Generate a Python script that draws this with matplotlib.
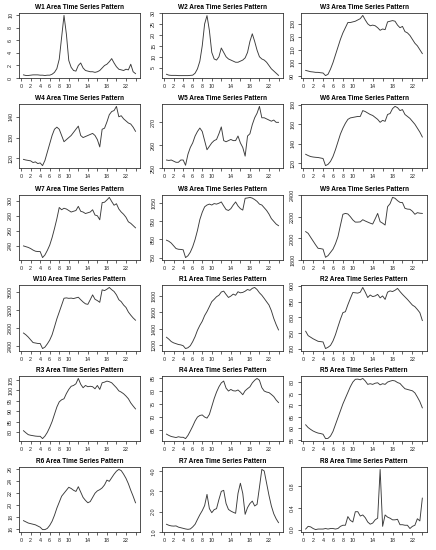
import numpy as np
import matplotlib
matplotlib.use("Agg")
import matplotlib.pyplot as plt

plt.rcParams["font.family"] = ["Liberation Sans", "DejaVu Sans"]

# half-hourly time stamps
hours = np.arange(1, 49) / 2.0

W1 = [0.5, 0.4, 0.4, 0.45, 0.5, 0.5, 0.5, 0.45,
      0.45, 0.4, 0.45, 0.45, 0.6, 0.9, 1.5, 3.0,
      6.5, 10.0, 7.0, 2.8, 1.7, 1.2, 1.1, 2.0,
      2.4, 1.6, 1.2, 1.1, 1.0, 1.0, 0.9, 1.0,
      1.2, 1.6, 2.0, 2.2, 2.6, 3.1, 2.4, 1.8,
      1.4, 1.3, 1.2, 1.4, 1.3, 2.2, 1.0, 0.7]
W2 = [2.0, 1.6, 1.5, 1.5, 1.5, 1.4, 1.4, 1.4,
      1.4, 1.4, 1.5, 1.6, 2.5, 4.5, 8.0, 15.0,
      25.0, 28.8, 22.0, 12.0, 9.0, 8.5, 10.0, 14.0,
      12.0, 10.0, 9.0, 8.5, 8.0, 7.5, 7.5, 8.0,
      8.5, 9.5, 12.0, 17.0, 20.5, 17.0, 13.0, 10.0,
      9.0, 8.5, 7.5, 6.0, 4.5, 3.5, 2.5, 1.5]
W3 = [94, 93.5, 93, 92.8, 92.5, 92.5, 92.2, 92,
      90, 91, 95, 100, 106, 112, 118, 123,
      127, 131, 131, 131.5, 132, 133, 134, 136.5,
      133, 130, 128.5, 129, 128.5, 127, 125, 126,
      125.5, 131.5, 132, 132.5, 132, 129, 127, 128,
      124, 123, 121, 118, 115, 113, 110, 107]
W4 = [119.5, 119.2, 119, 118.8, 118, 118.3, 117.5, 117.8,
      116.5, 119, 123, 127, 131, 134, 135, 134,
      131, 128, 129, 130, 131, 132.5, 134, 135.5,
      131, 130, 130.5, 131, 131.5, 132, 131, 129,
      125.5, 134, 134.5, 137.5, 141, 142.5, 143, 145,
      140, 140.5, 139, 138, 137, 136.5, 135, 133]
W5 = [253.5, 253.3, 253.5, 253, 252.5, 252.5, 253.5, 253.5,
      251.2, 256, 259, 261, 264, 266, 267.5, 266,
      262, 258, 259.5, 261, 262, 262.5, 265, 268,
      262, 261.5, 262, 262.5, 262, 262, 264, 261,
      259, 255.2, 264, 265, 269, 272, 274, 277,
      272, 272, 271.5, 271, 270.5, 271, 270, 270]
W6 = [129.3, 128, 127, 126.5, 126.2, 126, 125.5, 125,
      117.7, 119, 122, 127, 134, 142, 150, 156,
      161, 165, 166.5, 167, 167.5, 168, 168, 174,
      173, 171.5, 170, 169, 167, 165, 162, 164,
      163, 170, 171, 176, 178.3, 177, 174, 175,
      170, 168, 166, 163, 160, 156, 152, 147]
W7 = [240, 239, 238, 236.5, 234.5, 233, 232.5, 232.5,
      224.5, 228, 234, 241, 251, 263, 276, 291,
      288, 290, 289, 287, 285, 286, 287, 292.5,
      286, 285, 283, 284, 285, 288, 281, 280,
      274.7, 297.5, 298, 301, 304.4, 299, 294, 296,
      289, 285, 282, 278, 272, 270, 267, 264]
W8 = [846, 840, 830, 815, 800, 796, 795, 793,
      750, 760, 780, 810, 850, 900, 960, 1000,
      1030, 1040, 1045, 1040, 1048, 1045, 1050, 1057,
      1035, 1015, 1010, 1020, 1040, 1057, 1035, 1020,
      1012, 1077, 1079, 1082, 1078, 1070, 1060, 1045,
      1040, 1025, 1010, 990, 965, 950, 935, 926]
W9 = [2062, 2046, 2010, 1975, 1940, 1908, 1905, 1900,
      1825, 1840, 1870, 1900, 1950, 2015, 2120, 2222,
      2230, 2225, 2200, 2170, 2150, 2150, 2152, 2172,
      2160, 2150, 2140, 2132, 2180, 2230, 2154, 2140,
      2123, 2292, 2320, 2378, 2370, 2348, 2332, 2330,
      2277, 2270, 2268, 2250, 2222, 2237, 2232, 2230]
W10 = [2689, 2650, 2600, 2540, 2480, 2470, 2460, 2459,
       2348, 2380, 2450, 2533, 2650, 2822, 3000, 3150,
       3300, 3452, 3460, 3450, 3455, 3445, 3460, 3474,
       3420, 3370, 3330, 3318, 3420, 3526, 3430, 3400,
       3363, 3637, 3620, 3650, 3689, 3640, 3600, 3526,
       3420, 3377, 3303, 3250, 3150, 3081, 3020, 2970]
R1 = [1294, 1270, 1241, 1225, 1215, 1205, 1200, 1190,
      1155, 1165, 1190, 1240, 1302, 1380, 1440, 1490,
      1560, 1610, 1670, 1731, 1760, 1792, 1810, 1850,
      1861, 1820, 1783, 1800, 1824, 1810, 1853, 1840,
      1845, 1860, 1881, 1870, 1895, 1906, 1880, 1840,
      1810, 1771, 1730, 1690, 1620, 1526, 1450, 1384]
R2 = [756, 742, 737, 732, 728, 724, 723, 722,
      701, 705, 711, 725, 745, 770, 794, 815,
      818, 840, 860, 879, 878, 877, 880, 895,
      880, 863, 871, 866, 868, 873, 862, 868,
      857, 880, 884, 882, 886, 892, 882, 873,
      865, 857, 848, 839, 834, 825, 815, 790]
R3 = [80.6, 79.6, 78.7, 78.4, 78.2, 78.0, 77.9, 77.9,
      76.8, 78.0, 79.8, 82.2, 85.0, 88.5, 92.0, 94.5,
      95.5, 96.0, 98.5, 100.5, 102.0, 102.4, 103.2, 105.8,
      103.0, 101.3, 102.4, 101.8, 102.0, 101.8, 100.8, 102.4,
      100.5, 103.7, 104.0, 104.5, 104.2, 103.7, 102.5, 101.3,
      99.8, 99.2, 98.4, 97.3, 96.0, 94.0, 92.5, 91.1]
R4 = [63.5, 63.0, 62.6, 62.4, 62.2, 62.5, 62.3, 62.3,
      61.8, 63.0, 64.7, 66.5, 68.5, 70.0, 70.6, 70.8,
      70.0, 69.6, 71.0, 74.0, 77.0, 79.5, 81.5, 83.0,
      83.7, 81.0, 79.9, 80.5, 80.0, 79.9, 80.3, 79.5,
      78.5, 80.0, 80.8, 81.5, 83.0, 84.0, 84.7, 84.0,
      81.2, 79.9, 79.5, 79.3, 78.6, 77.8, 76.5, 75.5]
R5 = [61.4, 60.2, 59.4, 58.7, 58.2, 57.8, 57.6, 57.3,
      55.4, 55.5, 56.5, 58.5, 61.5, 64.5, 67.5, 70.5,
      73.0, 75.5, 78.0, 80.0, 81.2, 81.3, 81.0, 81.6,
      80.5, 79.0, 79.3, 79.0, 79.5, 79.7, 78.8, 79.3,
      79.0, 80.0, 80.4, 80.7, 80.5, 79.8, 79.4, 78.2,
      77.1, 76.8, 76.5, 76.2, 75.3, 73.5, 71.5, 68.8]
R6 = [17.4, 17.2, 17.0, 16.9, 16.8, 16.7, 16.5, 16.3,
      15.9, 15.9, 16.1, 16.6, 17.3, 18.3, 19.5, 20.5,
      21.5, 22.0, 22.5, 23.0, 22.8, 22.5, 22.3, 23.1,
      22.2, 21.3, 20.8, 20.4, 20.6, 21.3, 22.0, 22.4,
      22.6, 22.9, 23.4, 24.2, 24.0, 24.6, 25.2, 25.7,
      26.0, 25.8, 25.2, 24.5, 23.6, 22.5, 21.5, 20.4]
R7 = [1.38, 1.33, 1.30, 1.29, 1.30, 1.24, 1.21, 1.18,
      1.15, 1.13, 1.15, 1.25, 1.38, 1.62, 1.85, 2.05,
      2.30, 2.85, 2.15, 1.95, 2.10, 2.15, 2.60, 3.00,
      3.05, 2.40, 2.11, 2.03, 1.97, 1.92, 2.90, 3.40,
      2.90, 1.87, 2.20, 2.40, 2.52, 2.28, 2.36, 3.20,
      4.08, 4.00, 3.40, 2.80, 2.28, 1.90, 1.65, 1.46]
R8 = [0.01, 0.06, 0.05, 0.02, 0.00, 0.01, 0.01, 0.01,
      0.02, 0.01, 0.02, 0.02, 0.01, 0.02, 0.06, 0.08,
      0.08, 0.24, 0.17, 0.14, 0.33, 0.33, 0.25, 0.27,
      0.22, 0.14, 0.10, 0.12, 0.18, 0.21, 1.11, 0.06,
      0.27, 0.23, 0.21, 0.18, 0.18, 0.19, 0.09, 0.09,
      0.08, 0.08, 0.02, 0.06, 0.08, 0.20, 0.16, 0.58]

names = ["W1", "W2", "W3", "W4", "W5", "W6", "W7", "W8", "W9",
         "W10", "R1", "R2", "R3", "R4", "R5", "R6", "R7", "R8"]
series = [W1, W2, W3, W4, W5, W6, W7, W8, W9,
          W10, R1, R2, R3, R4, R5, R6, R7, R8]
yticks = [
    [0, 2, 4, 6, 8, 10], [5, 10, 15, 20, 25, 30], [90, 100, 110, 120, 130],
    [120, 130, 140], [250, 260, 270], [120, 140, 160, 180],
    [240, 260, 280, 300], [750, 850, 950, 1050], [1800, 2000, 2200, 2400],
    [2400, 2800, 3200, 3600], [1200, 1400, 1600, 1800], [700, 750, 800, 850, 900],
    [80, 85, 90, 95, 100, 105], [65, 70, 75, 80, 85], [55, 60, 65, 70, 75, 80],
    [16, 18, 20, 22, 24, 26], [1.0, 2.0, 3.0, 4.0], [0.0, 0.4, 0.8],
]
ytick_fmt = {"R7": "{:.1f}", "R8": "{:.1f}"}

xticks = np.arange(0, 25, 2)
xlabels = [str(t) if t in (0, 2, 4, 6, 8, 10, 14, 18, 22) else "" for t in xticks]

W, H = 436, 550
cols = [(19, 140), (162, 283), (301, 427)]
rows = [(13, 78), (104, 168), (195, 260), (285, 351), (376, 441), (467, 532)]

fig = plt.figure(figsize=(W / 100, H / 100), dpi=100)

for i, (name, vals) in enumerate(zip(names, series)):
    r, c = divmod(i, 3)
    x0, x1 = cols[c]
    y0, y1 = rows[r]
    ax = fig.add_axes([x0 / W, 1 - y1 / H, (x1 - x0) / W, (y1 - y0) / H])
    ax.plot(hours, vals, color="#3a3a3a", lw=0.65)
    span = hours[-1] - hours[0]
    ax.set_xlim(hours[0] - 0.04 * span, hours[-1] + 0.04 * span)
    lo, hi = min(vals), max(vals)
    ax.set_ylim(lo - 0.04 * (hi - lo), hi + 0.04 * (hi - lo))
    ax.set_xticks(xticks)
    ax.set_xticklabels(xlabels)
    yt = yticks[i]
    ax.set_yticks(yt)
    fmt = ytick_fmt.get(name, "{:g}")
    ax.set_yticklabels([fmt.format(v) for v in yt], rotation=90, va="center")
    ax.tick_params(length=2.0, width=0.5, labelsize=3.9, pad=2.2, colors="#222222")
    for sp in ax.spines.values():
        sp.set_linewidth(0.6)
        sp.set_color("#333333")
    ax.set_title(f"{name} Area Time Series Pattern", fontsize=4.7,
                 fontweight="bold", pad=3)

fig.savefig("out.png", dpi=100)
